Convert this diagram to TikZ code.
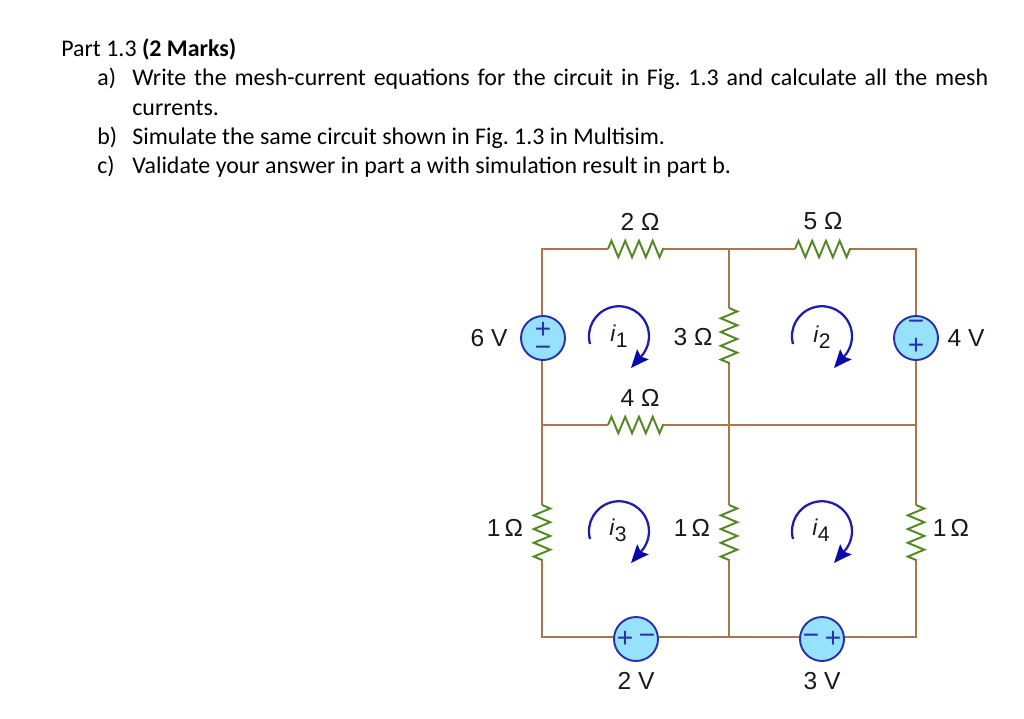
\documentclass[tikz,border=0pt]{standalone}
\usepackage{fontspec}
\setmainfont{Carlito}
\newfontfamily\circuitfont{Liberation Sans}
\usetikzlibrary{arrows.meta, decorations.pathmorphing}
\definecolor{wirebrown}{RGB}{166,118,76}
\definecolor{resgreen}{RGB}{82,136,34}
\definecolor{srcfill}{RGB}{150,226,252}
\definecolor{srcblue}{RGB}{40,48,170}
\definecolor{loopblue}{RGB}{30,30,170}
\definecolor{tipblue}{RGB}{10,10,170}
\definecolor{qblack}{RGB}{25,25,25}
\tikzstyle{wire} = [wirebrown, line width=1pt]
\tikzstyle{resistor} = [resgreen, line width=1.1pt, decorate, decoration={zigzag, amplitude=0.165cm, segment length=0.275cm}]
\tikzstyle{source} = [circle, draw=srcblue, fill=srcfill, line width=1.1pt, minimum size=0.88cm, inner sep=0pt]
\tikzstyle{sign} = [text=srcblue, font=\circuitfont\fontsize{16}{16}\selectfont, inner sep=0pt]
\tikzstyle{meshloop} = [loopblue, line width=1.3pt, -{Stealth[length=0.36cm, width=0.3cm, inset=0.06cm, color=tipblue]}]
\tikzstyle{value} = [text=qblack, font=\circuitfont\fontsize{14}{16}\selectfont, inner sep=0pt]
\tikzstyle{meshlabel} = [text=qblack, font=\circuitfont\fontsize{13}{15}\selectfont, inner sep=0pt]
\tikzstyle{question} = [text=black, anchor=base west, inner sep=0pt, font=\frenchspacing\fontsize{13.6}{16}\selectfont]
\begin{document}
\begin{tikzpicture}[x=0.02cm, y=0.02cm]
\useasboundingbox (0,0) rectangle (1024,-718);
%----------------------------------------------------------------------------
% Question text
\node (part) [question] at (61,-56) {Part 1.3 \textbf{(2 Marks)}};
\node (amark) [question] at (97,-85) {a)};
\node (aline) [question] at (132,-85) {\makebox[17.12cm][s]{Write the mesh-current equations for the circuit in Fig. 1.3 and calculate all the mesh}};
\node (aline2) [question] at (132,-115) {currents.};
\node (bmark) [question] at (97,-144) {b)};
\node (bline) [question] at (132,-144) {Simulate the same circuit shown in Fig. 1.3 in Multisim.};
\node (cmark) [question] at (97,-173) {c)};
\node (cline) [question] at (132,-173) {Validate your answer in part a with simulation result in part b.};

%----------------------------------------------------------------------------
% Corners and junctions
\coordinate (tl) at (542,-249);
\coordinate (tm) at (729,-249);
\coordinate (tr) at (916,-249);
\coordinate (ml) at (542,-425);
\coordinate (mm) at (729,-425);
\coordinate (mr) at (916,-425);
\coordinate (bl) at (542,-637);
\coordinate (bm) at (729,-637);
\coordinate (br) at (916,-637);

% Resistor ends
\coordinate (r2a) at (608,-249);
\coordinate (r2b) at (663,-249);
\coordinate (r5a) at (795,-249);
\coordinate (r5b) at (850,-249);
\coordinate (r4a) at (608,-425);
\coordinate (r4b) at (663,-425);
\coordinate (r3a) at (729,-308);
\coordinate (r3b) at (729,-364);
\coordinate (r1la) at (542,-505);
\coordinate (r1lb) at (542,-560);
\coordinate (r1ma) at (729,-505);
\coordinate (r1mb) at (729,-560);
\coordinate (r1ra) at (916,-505);
\coordinate (r1rb) at (916,-560);

%----------------------------------------------------------------------------
% Draw wires
\draw [wire] (ml) -- (tl) -- (r2a);
\draw [wire] (r2b) -- (tm) -- (r5a);
\draw [wire] (r5b) -- (tr) -- (mr);
\draw [wire] (ml) -- (r4a);
\draw [wire] (r4b) -- (mm) -- (mr);
\draw [wire] (tm) -- (r3a);
\draw [wire] (r3b) -- (mm) -- (r1ma);
\draw [wire] (r1mb) -- (bm);
\draw [wire] (ml) -- (r1la);
\draw [wire] (r1lb) -- (bl) -- (bm) -- (br) -- (r1rb);
\draw [wire] (r1ra) -- (mr);

%----------------------------------------------------------------------------
% Draw resistors
\draw [resistor] (r2a) -- (r2b);
\draw [resistor] (r5a) -- (r5b);
\draw [resistor] (r4a) -- (r4b);
\draw [resistor] (r3a) -- (r3b);
\draw [resistor] (r1la) -- (r1lb);
\draw [resistor] (r1ma) -- (r1mb);
\draw [resistor] (r1ra) -- (r1rb);

%----------------------------------------------------------------------------
% Placement of sources
\node (v6) [source] at (543,-338) {};
\node (v4) [source] at (916,-338) {};
\node (v2) [source] at (636,-639) {};
\node (v3) [source] at (822,-639) {};
\node (v6p) [sign] at (543,-330) {+};
\node (v6m) [sign] at (543,-351) {−};
\node (v4m) [sign] at (916,-325) {−};
\node (v4p) [sign] at (916,-346) {+};
\node (v2p) [sign] at (625,-639) {+};
\node (v2m) [sign] at (647,-639) {−};
\node (v3m) [sign] at (811,-639) {−};
\node (v3p) [sign] at (833,-639) {+};

%----------------------------------------------------------------------------
% Mesh currents
\coordinate (i1start) at (590,-344);
\coordinate (i1tip) at (631,-368);
\coordinate (i2start) at (793,-344);
\coordinate (i2tip) at (834,-368);
\coordinate (i3start) at (590,-539);
\coordinate (i3tip) at (631,-563);
\coordinate (i4start) at (793,-539);
\coordinate (i4tip) at (834,-563);
\draw [meshloop] (i1start) arc[start angle=195, end angle=-36, radius=0.6cm] -- (i1tip);
\draw [meshloop] (i2start) arc[start angle=195, end angle=-36, radius=0.6cm] -- (i2tip);
\draw [meshloop] (i3start) arc[start angle=195, end angle=-36, radius=0.6cm] -- (i3tip);
\draw [meshloop] (i4start) arc[start angle=195, end angle=-36, radius=0.6cm] -- (i4tip);
\node (i1) [meshlabel] at (619,-336) {\textit{i}\raisebox{-0.5ex}{\fontsize{12}{14}\selectfont 1}};
\node (i2) [meshlabel] at (822,-337) {\textit{i}\raisebox{-0.5ex}{\fontsize{12}{14}\selectfont 2}};
\node (i3) [meshlabel] at (618,-530) {\textit{i}\raisebox{-0.5ex}{\fontsize{12}{14}\selectfont 3}};
\node (i4) [meshlabel] at (821,-530) {\textit{i}\raisebox{-0.5ex}{\fontsize{12}{14}\selectfont 4}};

%----------------------------------------------------------------------------
% Values
\node (l2) [value] at (640,-222) {2 Ω};
\node (l5) [value] at (823,-221) {5 Ω};
\node (l6v) [value] at (489,-338) {6 V};
\node (l3) [value] at (693,-337) {3 Ω};
\node (l4v) [value] at (966,-338) {4 V};
\node (l4) [value] at (640,-398) {4 Ω};
\node (l1l) [value] at (505,-528) {1\,Ω};
\node (l1m) [value] at (692,-528) {1\,Ω};
\node (l1r) [value] at (951,-528) {1\,Ω};
\node (l2v) [value] at (636,-681) {2 V};
\node (l3v) [value] at (822,-681) {3 V};
\end{tikzpicture}
\end{document}
